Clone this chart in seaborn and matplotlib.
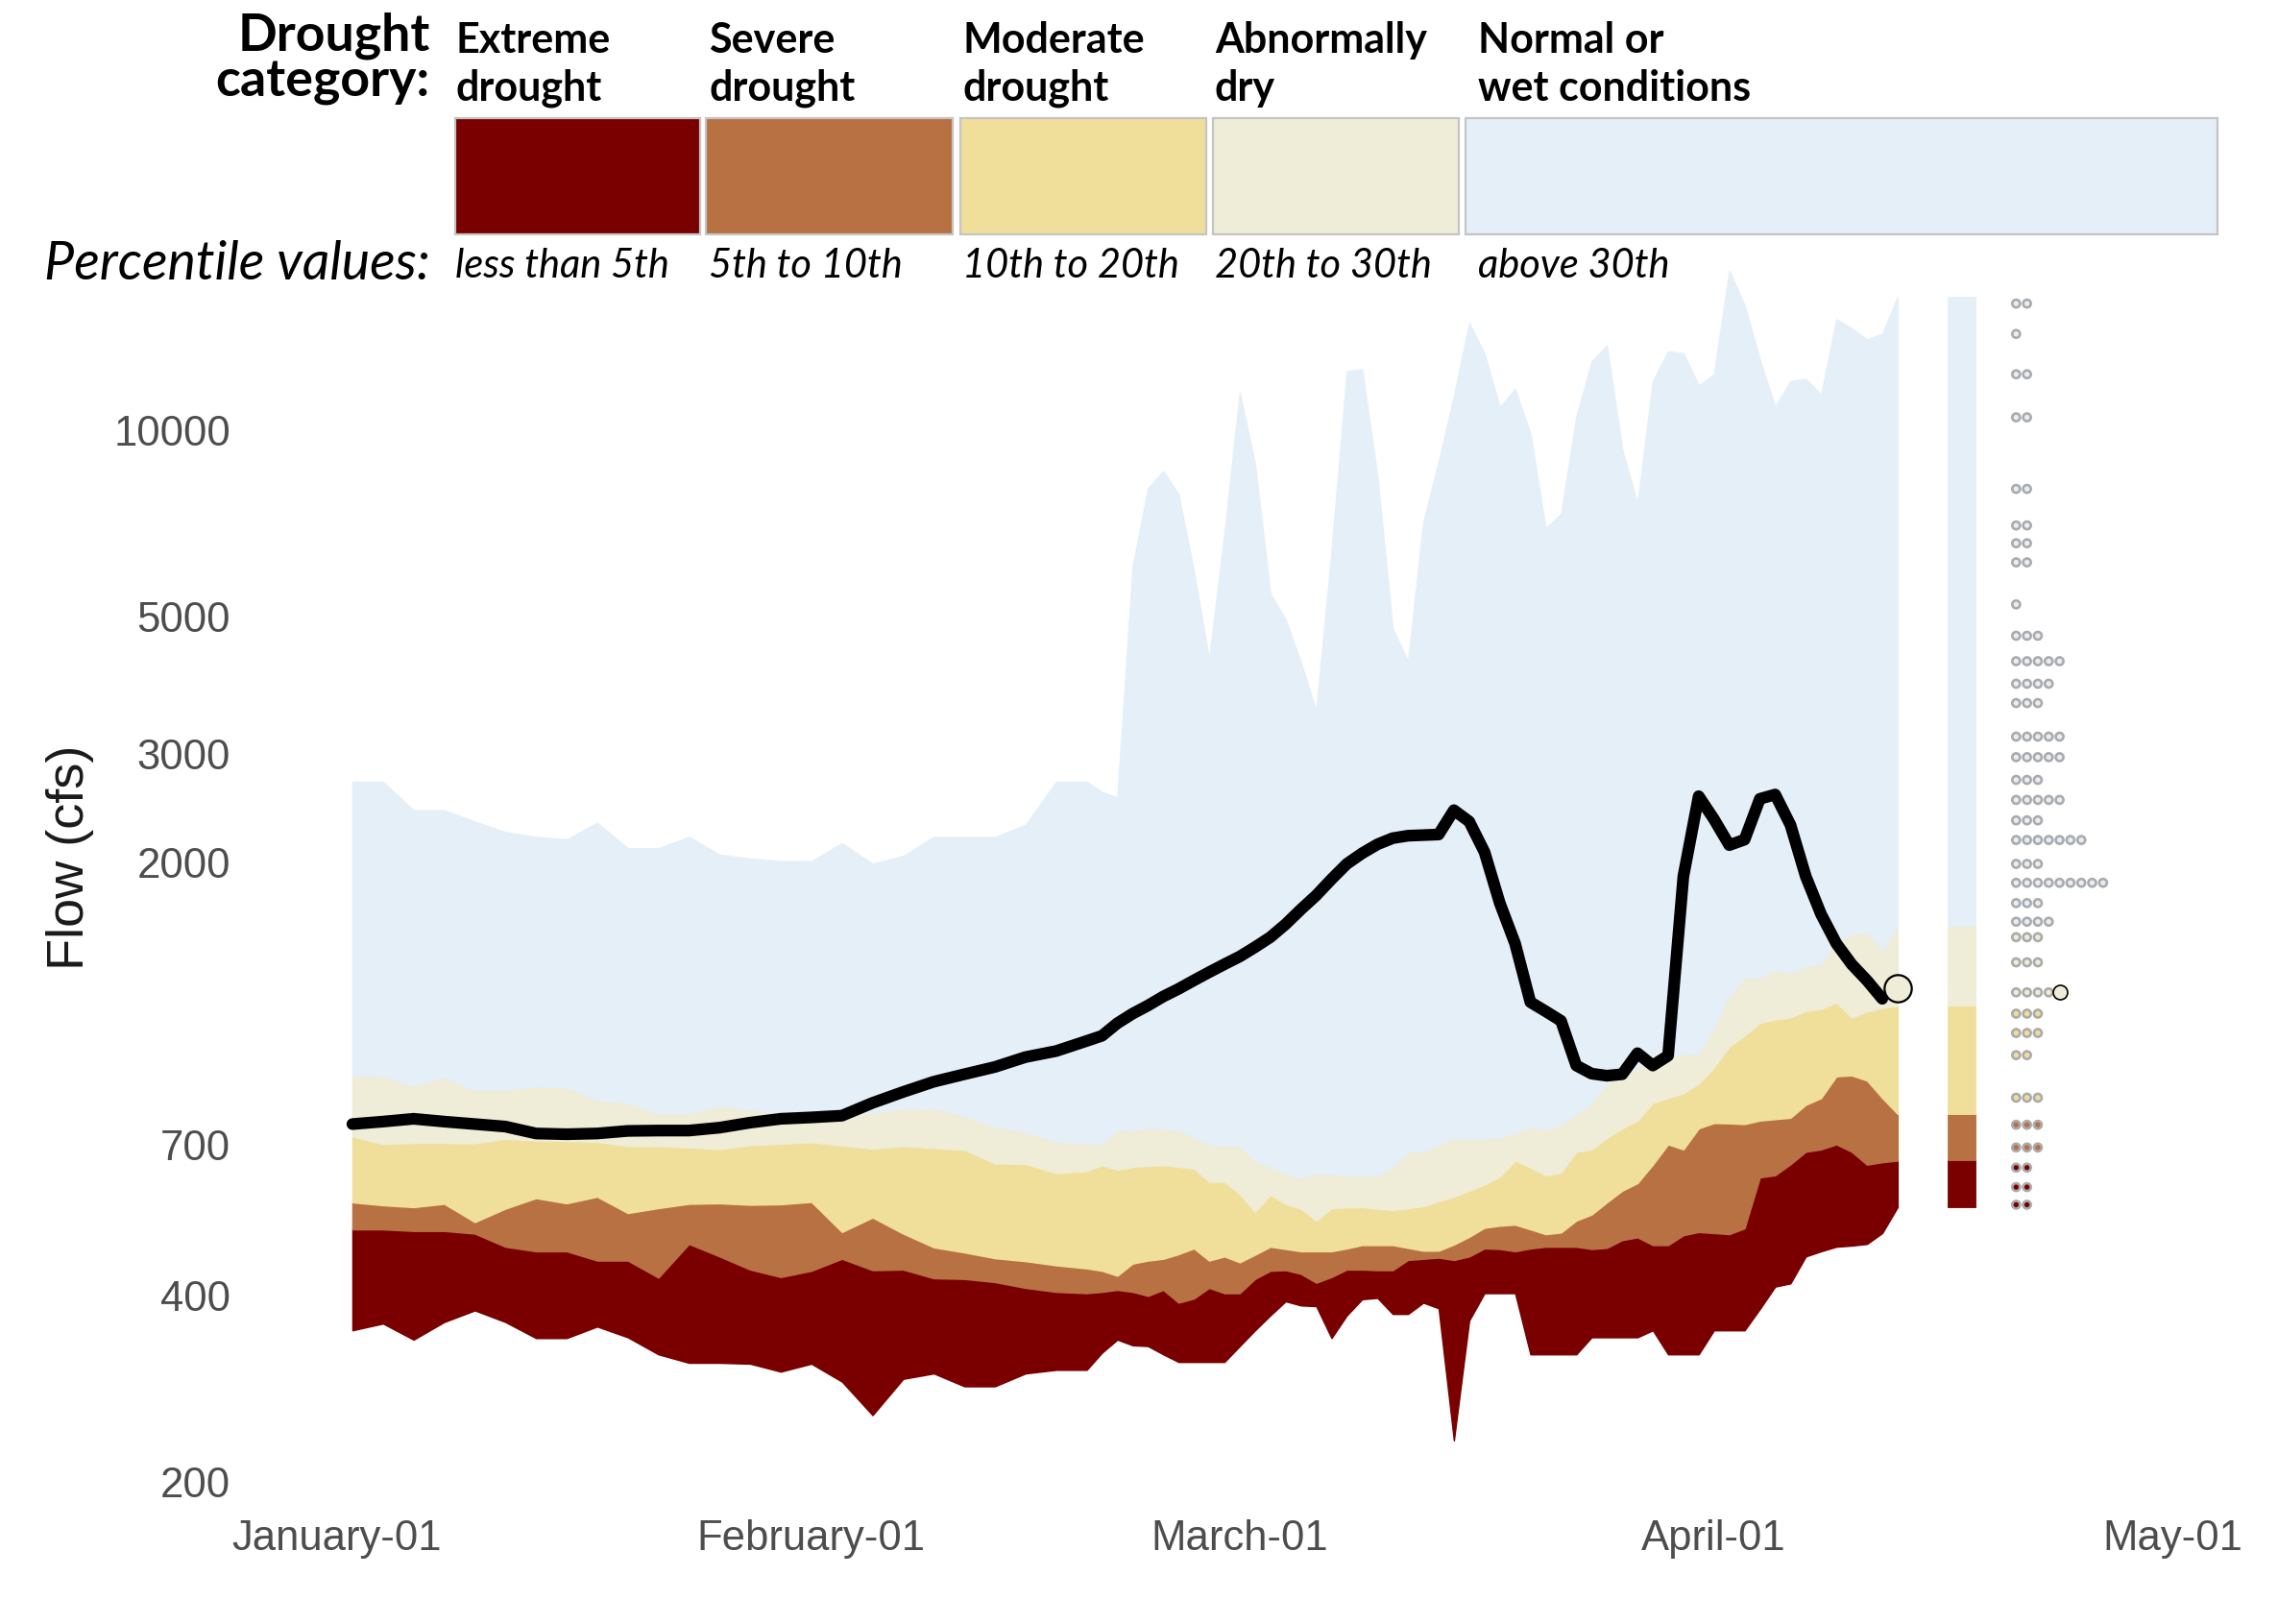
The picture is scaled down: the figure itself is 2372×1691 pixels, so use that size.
import numpy as np
import pandas as pd
import matplotlib.pyplot as plt
import seaborn as sns
from matplotlib.patches import Rectangle
from matplotlib.ticker import NullLocator

sns.set_theme(style="white")
plt.rcParams['font.family'] = ['Liberation Sans', 'DejaVu Sans']

# ---------------- data ----------------
# sample days, counted from January-01 (every 2nd day in Jan/Feb, then daily)
days = list(range(1, 50, 2)) + list(range(50, 103))

flow_min = [351, 360, 339, 362, 378, 362, 341, 341, 356, 342, 321, 311, 311,
            310, 301, 310, 290, 256, 293, 299, 285, 285, 299, 303, 303,
            323, 339, 332, 331, 321, 312, 312, 312, 312, 331,
            351, 371, 391, 385, 384, 341, 371, 394, 396, 373,
            373, 389, 381, 233, 364, 403, 403, 403, 321, 321,
            321, 321, 342, 342, 342, 342, 351, 321, 321, 321,
            351, 351, 351, 380, 413, 418, 462, 471, 479, 481,
            484, 504, 555]
p05 = [511, 511, 508, 508, 503, 479, 471, 471, 455, 455, 427, 484, 462,
       440, 428, 438, 458, 439, 440, 426, 425, 420, 411, 405, 403,
       405, 408, 405, 399, 408, 389, 395, 411, 403, 403,
       425, 438, 439, 433, 419, 428, 440, 440, 439, 439,
       456, 458, 460, 456, 462, 476, 475, 471, 476, 479,
       479, 479, 475, 477, 491, 496, 482, 482, 500, 506,
       504, 502, 513, 620, 625, 651, 682, 688, 701, 682,
       650, 656, 660]
p10 = [565, 559, 555, 562, 525, 552, 574, 563, 577, 543, 553, 562, 563,
       560, 561, 566, 506, 534, 503, 478, 469, 459, 454, 447, 442,
       438, 430, 450, 455, 458, 466, 476, 455, 462, 452,
       465, 479, 475, 471, 471, 471, 476, 482, 482, 482,
       477, 472, 472, 483, 497, 514, 518, 520, 511, 502,
       505, 528, 540, 565, 590, 607, 650, 701, 688, 744,
       759, 758, 756, 766, 770, 774, 812, 833, 903, 906,
       889, 833, 785]
p20 = [722, 702, 705, 705, 704, 716, 711, 710, 708, 697, 697, 693, 689,
       699, 703, 707, 698, 690, 697, 692, 687, 653, 652, 630, 635,
       649, 638, 645, 647, 649, 645, 641, 610, 610, 583,
       545, 581, 562, 552, 528, 553, 555, 555, 552, 549,
       553, 557, 567, 577, 590, 604, 622, 660, 643, 625,
       631, 682, 688, 718, 744, 766, 818, 833, 848, 879,
       933, 1008, 1051, 1102, 1115, 1124, 1152, 1160, 1188, 1124,
       1150, 1165, 1174]
p30 = [908, 904, 872, 900, 857, 860, 870, 868, 826, 819, 786, 788, 810,
       798, 786, 788, 790, 788, 801, 802, 780, 750, 735, 708, 704,
       702, 739, 738, 746, 743, 740, 720, 701, 699, 697,
       660, 645, 630, 619, 630, 628, 625, 625, 625, 645,
       682, 682, 700, 718, 714, 717, 720, 731, 750, 740,
       756, 785, 818, 879, 900, 933, 975, 977, 980, 982,
       1083, 1220, 1302, 1305, 1341, 1328, 1360, 1372, 1493, 1532,
       1547, 1441, 1580]
flow_max = [2700, 2700, 2430, 2430, 2330, 2240, 2200, 2180, 2320, 2110, 2110, 2200, 2060,
            2030, 2010, 2010, 2150, 1990, 2050, 2200, 2200, 2200, 2300, 2700, 2700,
            2600, 2550, 6020, 8050, 8580, 7870, 5920, 4260, 6820, 11500,
            8810, 5440, 4940, 4210, 3520, 6360, 12440, 12540, 8400, 4770,
            4230, 7110, 8890, 11350, 14880, 13290, 10890, 11650, 9860, 6940,
            7320, 10500, 12900, 13700, 9300, 7600, 12000, 13400, 13300, 11800,
            12300, 18100, 15900, 13000, 10900, 12000, 12100, 11400, 15100, 14600,
            14000, 14300, 16400]

# current year daily flow (ends one day before "today")
flow_days = days[:-1]
flow = [756, 763, 771, 763, 756, 749, 730, 728, 730, 737, 738, 738, 746,
        760, 771, 775, 780, 818, 852, 885, 910, 935, 970, 992, 1030,
        1050, 1100, 1140, 1175, 1215, 1250, 1290, 1330, 1370, 1410,
        1460, 1515, 1590, 1680, 1770, 1880, 1990, 2070, 2140, 2190,
        2210, 2215, 2220, 2430, 2330, 2080, 1720, 1480, 1190, 1150,
        1110, 940, 912, 905, 910, 984, 940, 975, 1900, 2560,
        2350, 2134, 2178, 2535, 2576, 2300, 1900, 1650, 1480, 1370,
        1290, 1205]
today_day = 102
today_flow = 1252

# historical values on today's date (dot plot rows) and how many years per row
dot_values = [16000, 14290, 12300, 10480, 8030, 7010, 6560, 6110, 5225, 4650,
              4230, 3890, 3620, 3195, 2960, 2720, 2525, 2340, 2175, 1990,
              1855, 1720, 1605, 1515, 1380, 1234, 1140, 1061, 977, 834,
              754, 693, 643, 598, 560]
dot_counts = [2, 1, 2, 2, 2, 2, 2, 2, 1, 3,
              5, 4, 3, 5, 5, 3, 5, 3, 7, 3,
              9, 3, 4, 3, 3, 4, 3, 3, 2, 3,
              3, 3, 2, 2, 2]

categories = ['Extreme\ndrought', 'Severe\ndrought', 'Moderate\ndrought',
              'Abnormally\ndry', 'Normal or\nwet conditions']
percentile_labels = ['less than 5th', '5th to 10th', '10th to 20th',
                     '20th to 30th', 'above 30th']
colors = ['#7A0000', '#B77142', '#F0DF9A', '#EFECD8', '#E5EFF8']

y_ticks = [200, 400, 700, 2000, 3000, 5000, 10000]
month_starts = pd.date_range('2023-01-01', '2023-05-01', freq='MS')

# ---------------- figure ----------------
W, H, DPI = 2372, 1691, 200
fig = plt.figure(figsize=(W / DPI, H / DPI), dpi=DPI)
ax = fig.add_axes([351 / W, 1 - 1557 / H, (2262.6 - 351) / W, (1557 - 268) / H])
ax.set_yscale('log')

# percentile bands
bounds = [flow_min, p05, p10, p20, p30, flow_max]
for lo, hi, c in zip(bounds[:-1], bounds[1:], colors):
    ax.fill_between(days, lo, hi, facecolor=c, edgecolor=c, linewidth=0.5, zorder=1)

# current flow line
sns.lineplot(x=flow_days, y=flow, ax=ax, color='black', linewidth=4.4,
             estimator=None, sort=False, zorder=3)

# today's value
last = [b[-1] for b in bounds]
today_cat = int(np.digitize(today_flow, last[1:5]))
ax.scatter([today_day], [today_flow], s=10.2 ** 2, facecolor=colors[today_cat],
           edgecolor='black', linewidth=0.8, zorder=5)

# bar with today's percentile ranges
for lo, hi, c in zip(last[:-1], last[1:], colors):
    ax.fill_between([105.3, 107.1], lo, hi, facecolor=c, edgecolor=c, linewidth=0.3, zorder=1)

# dot plot of historical values for today
x0, step = 109.75, 0.71
rows = []
for v, n in zip(dot_values, dot_counts):
    for i in range(n):
        rows.append({'x': x0 + step * i, 'y': v, 'cat': int(np.digitize(v, last[1:5]))})
dots = pd.DataFrame(rows)
sns.scatterplot(data=dots, x='x', y='y', hue='cat', palette=dict(enumerate(colors)),
                s=2.9 ** 2, edgecolor='#ABABAB', linewidth=0.95, legend=False, ax=ax, zorder=4)
near = int(np.argmin(np.abs(np.log(np.array(dot_values)) - np.log(today_flow))))
ax.scatter([x0 + step * dot_counts[near]], [dot_values[near]], s=5.4 ** 2,
           facecolor=colors[today_cat], edgecolor='black', linewidth=0.6, zorder=6)

# axes
ax.set_xlim(0, 120)
ax.set_ylim(190, 19000)
ax.set_yticks(y_ticks)
ax.set_yticklabels([str(v) for v in y_ticks])
ax.yaxis.set_minor_locator(NullLocator())
xt = [(d - month_starts[0]).days for d in month_starts]
ax.set_xticks(xt)
ax.set_xticklabels([d.strftime('%B-%d') for d in month_starts])
ax.tick_params(axis='both', length=0, labelsize=15.7, labelcolor='#4D4D4D')
ax.tick_params(axis='y', pad=40)
ax.tick_params(axis='x', pad=9)
ax.set_xlabel('')
ax.set_ylabel('')
ax.grid(False)
sns.despine(ax=ax, left=True, bottom=True)
fig.text(72.6 / W, 1 - 892.5 / H, 'Flow (cfs)', rotation=90, ha='center', va='center',
         fontsize=19.5, color='#1A1A1A')

# ---------------- legend (drawn in pixel coordinates) ----------------
lg = fig.add_axes([0, 0, 1, 1], zorder=10)
lg.set_xlim(0, W)
lg.set_ylim(H, 0)
lg.axis('off')
lg.patch.set_alpha(0)

leg_font = ['Lato', 'DejaVu Sans']
box_x = [(473.5, 729.2), (735.2, 992.4), (999.9, 1255.6), (1263.2, 1518.8), (1526.4, 2308.5)]
label_x = [474, 738, 1002, 1265, 1539]
for (xa, xb), lx, c, cat, pl in zip(box_x, label_x, colors, categories, percentile_labels):
    lg.add_patch(Rectangle((xa, 122.5), xb - xa, 121, facecolor=c,
                           edgecolor='#C4C4C4', linewidth=0.8))
    l1, l2 = cat.split('\n')
    lg.text(lx, 55, l1, ha='left', va='baseline', fontsize=15.5, fontweight='bold',
            family=leg_font, color='black')
    lg.text(lx, 105, l2, ha='left', va='baseline', fontsize=15.5, fontweight='bold',
            family=leg_font, color='black')
    lg.text(lx, 289, pl, ha='left', va='baseline', fontsize=15, style='italic',
            family=leg_font, color='black')

lg.text(448, 53, 'Drought', ha='right', va='baseline', fontsize=19.3, fontweight='bold',
        family=leg_font, color='black')
lg.text(448, 100, 'category:', ha='right', va='baseline', fontsize=19.3, fontweight='bold',
        family=leg_font, color='black')
lg.text(448, 291, 'Percentile values:', ha='right', va='baseline', fontsize=20,
        style='italic', family=leg_font, color='black')

plt.savefig('out.png', dpi=DPI)
